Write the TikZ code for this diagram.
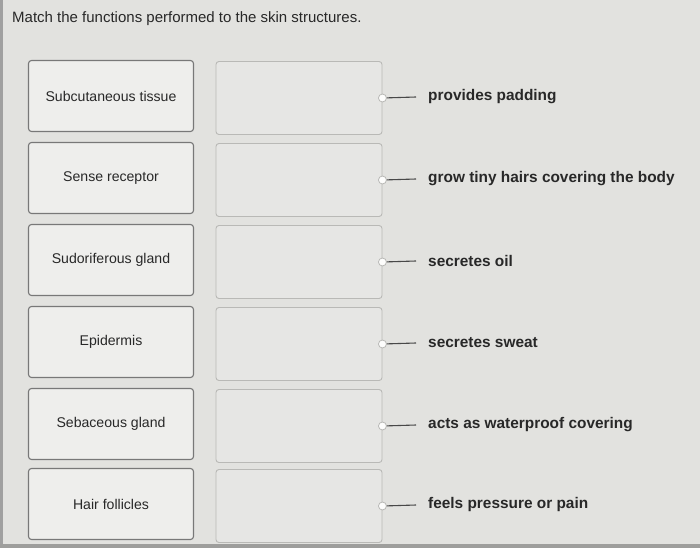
\documentclass[tikz,border=0pt]{standalone}
\usepackage{fontspec}
\setmainfont{Liberation Sans}
\usetikzlibrary{positioning,calc}
\definecolor{PageGray}{RGB}{226,226,223}
\definecolor{EdgeGray}{RGB}{120,120,120}
\definecolor{SlotGray}{RGB}{185,185,182}
\definecolor{InkGray}{RGB}{40,40,40}
\tikzset{
	term/.style={draw=EdgeGray,fill=PageGray!60!white,line width=1.1pt,rounded corners=3pt,
		minimum width=165pt,minimum height=71pt,inner sep=0pt,font=\fontsize{14.1}{17}\selectfont,text=InkGray},
	slot/.style={draw=SlotGray,fill=PageGray!85!white,line width=0.9pt,rounded corners=3pt,
		minimum width=166pt,minimum height=73pt,inner sep=0pt},
	knob/.style={circle,draw=SlotGray,fill=white!92!PageGray,line width=0.8pt,inner sep=0pt,minimum size=8pt},
	func/.style={anchor=west,inner sep=0pt,font=\bfseries\fontsize{15.4}{18}\selectfont,text=InkGray},
	wire/.style={draw=InkGray!85,line width=1.1pt},
}
\begin{document}
\begin{tikzpicture}[x=1pt,y=-1pt]
	\fill[PageGray] (0,0) rectangle (700,548);
	\useasboundingbox (0,0) rectangle (700,548);
	\fill[EdgeGray!70] (0,0) rectangle (2.5,548);
	\fill[PageGray!70!black] (0,544) rectangle (700,548);
	\node[anchor=west,inner sep=0pt,font=\fontsize{15}{18}\selectfont,text=InkGray] (title) at (12,19)
		{Match the functions performed to the skin structures.};
	\foreach \lab/\fn/\yy [count=\i] in {
		Subcutaneous tissue/provides padding/96,
		Sense receptor/grow tiny hairs covering the body/178,
		Sudoriferous gland/secretes oil/260,
		Epidermis/secretes sweat/342,
		Sebaceous gland/acts as waterproof covering/424,
		Hair follicles/feels pressure or pain/504}
	{
		\node[term] (s\i) at (111,\yy) {\lab};
		\node[slot] (m\i) at (299,\yy+2) {};
		\node[func] (f\i) at (428,\yy+1) {\fn};
		\draw[wire] (m\i.east) -- ([xshift=-12pt]f\i.west);
		\node[knob] (k\i) at (m\i.east) {};
	}
\end{tikzpicture}
\end{document}
